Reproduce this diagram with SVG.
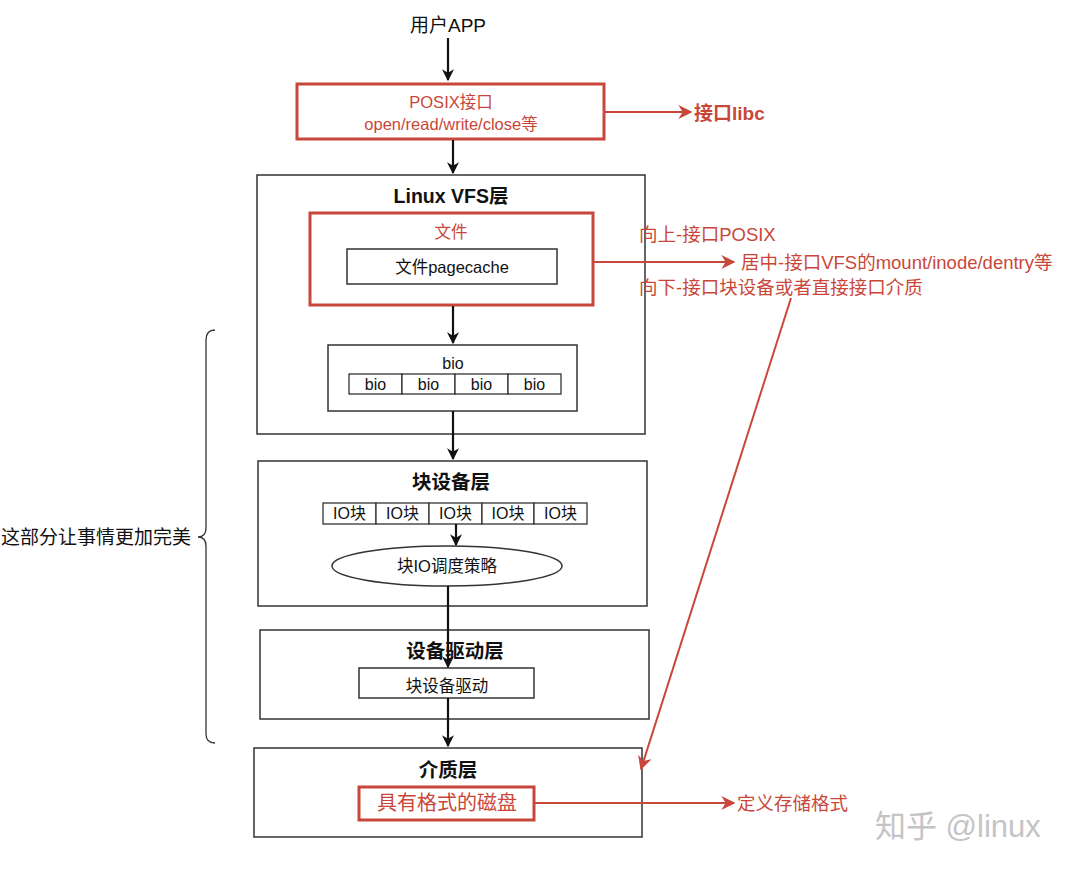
<svg xmlns="http://www.w3.org/2000/svg" width="1080" height="870" viewBox="0 0 1080 870">
<defs>
<marker id="ab" viewBox="0 0 10 10" refX="9" refY="5" markerWidth="5.5" markerHeight="5.5" orient="auto" markerUnits="strokeWidth"><path d="M0,0 L10,5 L0,10 L3,5 Z" fill="#111"/></marker>
<marker id="ar" viewBox="0 0 10 10" refX="9" refY="5" markerWidth="7" markerHeight="7" orient="auto" markerUnits="strokeWidth"><path d="M0,0 L10,5 L0,10 L3,5 Z" fill="#c9473a"/></marker>
<style>
text{font-family:"Liberation Sans","Noto Sans CJK SC",sans-serif;fill:#111;dominant-baseline:central}
.c{text-anchor:middle}
.b{font-weight:bold}
.r{fill:#c9473a}
.box{fill:#fff;stroke:#333;stroke-width:1.5}
.rbox{fill:#fff;stroke:#c9473a;stroke-width:3}
.cell{fill:#fff;stroke:#333;stroke-width:1.3}
.bl{stroke:#111;stroke-width:2.2;fill:none}
.rl{stroke:#c9473a;stroke-width:2;fill:none}
</style>
</defs>
<rect width="1080" height="870" fill="#fff"/>

<g id="user-app"><text class="c" x="448" y="25" font-size="19">用户APP</text></g>

<g id="posix"><rect class="rbox" x="297" y="84" width="307" height="55"/>
<text class="c r" x="451" y="102" font-size="16.5">POSIX接口</text>
<text class="c r" x="451" y="124" font-size="16.5">open/read/write/close等</text></g>

<g id="libc"><text class="r b" x="694" y="113" font-size="19">接口libc</text></g>

<g id="vfs"><rect class="box" x="257" y="175" width="388" height="259"/>
<text class="c b" x="451" y="196" font-size="19.5">Linux VFS层</text></g>

<g id="file"><rect class="rbox" x="310" y="213" width="283" height="92"/>
<text class="c r" x="451" y="232" font-size="16.5">文件</text>
<rect class="box" x="347" y="249" width="210" height="35"/>
<text class="c" x="452" y="267" font-size="16.5">文件pagecache</text></g>

<g id="vfs-notes">
<text class="r" x="639" y="234" font-size="18.5">向上-接口POSIX</text>
<text class="r" x="741" y="262" font-size="18.5">居中-接口VFS的mount/inode/dentry等</text>
<text class="r" x="639" y="287" font-size="18.5">向下-接口块设备或者直接接口介质</text></g>

<g id="bio"><rect class="box" x="328" y="345" width="249" height="66"/>
<text class="c" x="453" y="363" font-size="16">bio</text>
<rect class="cell" x="349" y="374" width="53" height="20"/><text class="c" x="375.5" y="384" font-size="16">bio</text>
<rect class="cell" x="402" y="374" width="53" height="20"/><text class="c" x="428.5" y="384" font-size="16">bio</text>
<rect class="cell" x="455" y="374" width="53" height="20"/><text class="c" x="481.5" y="384" font-size="16">bio</text>
<rect class="cell" x="508" y="374" width="53" height="20"/><text class="c" x="534.5" y="384" font-size="16">bio</text></g>

<g id="block-layer"><rect class="box" x="258" y="461" width="389" height="145"/>
<text class="c b" x="451" y="482" font-size="19.5">块设备层</text>
<rect class="cell" x="323" y="503" width="53" height="21"/><text class="c" x="349.5" y="513.5" font-size="16">IO块</text>
<rect class="cell" x="376" y="503" width="53" height="21"/><text class="c" x="402.5" y="513.5" font-size="16">IO块</text>
<rect class="cell" x="429" y="503" width="53" height="21"/><text class="c" x="455.5" y="513.5" font-size="16">IO块</text>
<rect class="cell" x="482" y="503" width="52" height="21"/><text class="c" x="508" y="513.5" font-size="16">IO块</text>
<rect class="cell" x="534" y="503" width="53" height="21"/><text class="c" x="560.5" y="513.5" font-size="16">IO块</text></g>

<g id="scheduler"><ellipse class="box" cx="447" cy="566" rx="115" ry="20"/>
<text class="c" x="447" y="566" font-size="16.5">块IO调度策略</text></g>

<g id="driver-layer"><rect class="box" x="260" y="630" width="389" height="89"/>
<text class="c b" x="455" y="651" font-size="19.5">设备驱动层</text>
<rect class="box" x="359" y="668" width="175" height="30"/>
<text class="c" x="447" y="686" font-size="16.5">块设备驱动</text></g>

<g id="media-layer"><rect class="box" x="254" y="748" width="388" height="89"/>
<text class="c b" x="448" y="770" font-size="19.5">介质层</text>
<rect class="rbox" x="359" y="787" width="175" height="33"/>
<text class="c r" x="447" y="803" font-size="20">具有格式的磁盘</text></g>

<g id="storage-format"><text class="r" x="737" y="803" font-size="18.5">定义存储格式</text></g>

<g id="brace-note">
<path d="M215,330 Q206,330 206,340 L206,528 Q206,537 198,537 Q206,537 206,546 L206,734 Q206,743 215,743" fill="none" stroke="#333" stroke-width="1.3"/>
<text x="191" y="537" font-size="19" text-anchor="end">这部分让事情更加完美</text></g>

<g id="connectors">
<line class="bl" x1="448" y1="38" x2="448" y2="80" marker-end="url(#ab)"/>
<line class="bl" x1="453" y1="140" x2="453" y2="173" marker-end="url(#ab)"/>
<line class="bl" x1="453" y1="306" x2="453" y2="343" marker-end="url(#ab)"/>
<line class="bl" x1="453" y1="411" x2="453" y2="459" marker-end="url(#ab)"/>
<line class="bl" x1="456" y1="524" x2="456" y2="545" marker-end="url(#ab)"/>
<line class="bl" x1="448" y1="586" x2="448" y2="667" marker-end="url(#ab)"/>
<line class="bl" x1="448" y1="698" x2="448" y2="746" marker-end="url(#ab)"/>
<line class="rl" x1="605" y1="112" x2="691" y2="112" marker-end="url(#ar)"/>
<line class="rl" x1="594" y1="262" x2="734" y2="262" marker-end="url(#ar)"/>
<line class="rl" x1="791" y1="298" x2="641" y2="769" marker-end="url(#ar)"/>
<line class="rl" x1="535" y1="803" x2="734" y2="803" marker-end="url(#ar)"/>
</g>

<g id="watermark"><text x="875" y="826" font-size="31" style="fill:#c4c4c4">知乎 @linux</text></g>
</svg>
